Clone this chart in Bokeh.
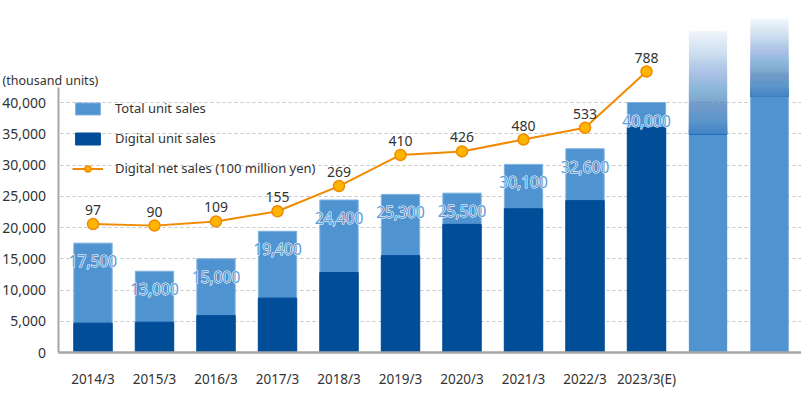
from bokeh.plotting import figure
from bokeh.models import (ColumnDataSource, Range1d, FixedTicker, NumeralTickFormatter,
                          Legend, LegendItem, Label)
from bokeh.core.properties import value
from bokeh.embed import file_html
from bokeh.resources import INLINE

# ---- data ----
years = ["2014/3", "2015/3", "2016/3", "2017/3", "2018/3", "2019/3",
         "2020/3", "2021/3", "2022/3", "2023/3(E)"]
total_units = [17500, 13000, 15000, 19400, 24400, 25300, 25500, 30100, 32600, 40000]
digital_units = [4700, 4850, 5900, 8700, 12800, 15500, 20500, 23000, 24300, 36000]
digital_sales = [97, 90, 109, 155, 269, 410, 426, 480, 533, 788]
total_labels = ["17,500", "13,000", "15,000", "19,400", "24,400", "25,300",
                "25,500", "30,100", "32,600", "40,000"]
sales_labels = [str(v) for v in digital_sales]
# decorative faded bars after the estimate year
deco_solid = [35000, 41000]
deco_top = [51500, 53400]
y_ticks = [0, 5000, 10000, 15000, 20000, 25000, 30000, 35000, 40000]

FONT = "Noto Sans"
LIGHT = "#4f93d0"
DARK = "#014d97"
ORANGE = "#f08a00"

X_START, X_END, Y_AXIS_AT = -1.504, 11.52, -0.553

xs = list(range(len(years)))
src = ColumnDataSource(dict(x=xs, total=total_units, digital=digital_units,
                            sales=digital_sales, tl=total_labels, sl=sales_labels))

p = figure(width=801, height=396, output_backend="svg", toolbar_location=None, title=None,
           x_range=Range1d(X_START, X_END), y_range=Range1d(-7040, 56320),
           min_border_left=0, min_border_right=0, min_border_top=0, min_border_bottom=0)
p.extra_y_ranges = {"sales": Range1d(-683.9, 1109.6)}
p.outline_line_color = None
p.background_fill_color = "white"

# decorative faded bars (solid lower part + smooth fade built from stacked layers)
n = 60
dx, db, dt, da = [], [], [], []
for i, (s, t) in enumerate(zip(deco_solid, deco_top)):
    xi = len(years) + i
    dx.append(xi); db.append(0); dt.append(s); da.append(1.0)
    step = (t - s) / n
    for k in range(n):
        f_k = 0.92 * (k + 0.5) / n
        f_next = 0.92 * (k + 1.5) / n if k < n - 1 else 1.0
        dx.append(xi); db.append(s - 60); dt.append(s + (k + 1) * step)
        da.append(1.0 - f_k / f_next)
p.vbar(x=dx, bottom=db, top=dt, width=0.623, fill_color=LIGHT, fill_alpha=da, line_color=None)

r_total = p.vbar(x="x", top="total", width=0.623, source=src, fill_color=LIGHT,
                 line_color="#7fb1e0", line_width=1)
r_dig = p.vbar(x="x", top="digital", width=0.623, source=src, fill_color=DARK,
               line_color=DARK, line_width=1)

r_line = p.line(x="x", y="sales", source=src, y_range_name="sales",
                line_color=ORANGE, line_width=2)
r_pts = p.scatter(x="x", y="sales", source=src, y_range_name="sales", size=11,
                  fill_color="#ffb400", line_color=ORANGE, line_width=1.5)

# bar value labels: white halo underneath, light-blue letters on top
p.text(x="x", y="total", text="tl", source=src, y_offset=18,
       text_align="center", text_baseline="middle", text_font=value(FONT),
       text_font_size="15.5px", text_color="white", text_outline_color="white")
p.text(x="x", y="total", text="tl", source=src, y_offset=18,
       text_align="center", text_baseline="middle", text_font=value(FONT),
       text_font_size="15.5px", text_color="#5d9cd6")
p.text(x="x", y="sales", text="sl", source=src, y_range_name="sales", y_offset=-14,
       text_align="center", text_baseline="middle", text_font=value(FONT),
       text_font_size="14px", text_color="#333333")

# axes (placed inside the frame)
p.yaxis.fixed_location = Y_AXIS_AT
p.yaxis.bounds = (0, 42400)
p.yaxis.ticker = FixedTicker(ticks=y_ticks)
p.yaxis.formatter = NumeralTickFormatter(format="0,0")
p.yaxis.axis_line_color = "#a6a6a6"
p.yaxis.axis_line_width = 2
p.yaxis.major_tick_line_color = None
p.yaxis.minor_tick_line_color = None
p.yaxis.major_label_standoff = 7
p.yaxis.major_label_text_font = FONT
p.yaxis.major_label_text_font_size = "14px"
p.yaxis.major_label_text_color = "#333333"

p.xaxis.fixed_location = 0
p.xaxis.bounds = (Y_AXIS_AT, X_END)
p.xaxis.ticker = FixedTicker(ticks=xs)
p.xaxis.major_label_overrides = {i: y for i, y in enumerate(years)}
p.xaxis.axis_line_color = "#a6a6a6"
p.xaxis.axis_line_width = 2.5
p.xaxis.major_tick_line_color = None
p.xaxis.minor_tick_line_color = None
p.xaxis.major_label_standoff = 11
p.xaxis.major_label_text_font = FONT
p.xaxis.major_label_text_font_size = "13.5px"
p.xaxis.major_label_text_color = "#333333"

p.xgrid.grid_line_color = None
p.ygrid.ticker = FixedTicker(ticks=y_ticks[1:])
p.ygrid.grid_line_color = "#c4c4c4"
p.ygrid.grid_line_dash = "3 3"
p.ygrid.grid_line_width = 1

# keep the grid lines to the right of the y axis
p.quad(left=[X_START], right=[Y_AXIS_AT], bottom=[0], top=[42400],
       fill_color="white", line_color=None)

p.add_layout(Label(x=2, y=316, x_units="screen", y_units="screen",
                   text="(thousand units)", text_font=FONT, text_font_size="12.5px",
                   text_color="#333333", text_baseline="middle"))

legend = Legend(items=[LegendItem(label="Total unit sales", renderers=[r_total]),
                       LegendItem(label="Digital unit sales", renderers=[r_dig]),
                       LegendItem(label="Digital net sales (100 million yen)",
                                  renderers=[r_line, r_pts])],
                location=(72, 219), orientation="vertical", glyph_width=31,
                glyph_height=15, label_height=15, spacing=12, padding=0, margin=0,
                label_standoff=12, background_fill_alpha=0, border_line_color=None,
                label_text_font=FONT, label_text_font_size="13px",
                label_text_color="#333333")
p.add_layout(legend)

open("out.html", "w").write(file_html(p, INLINE))
